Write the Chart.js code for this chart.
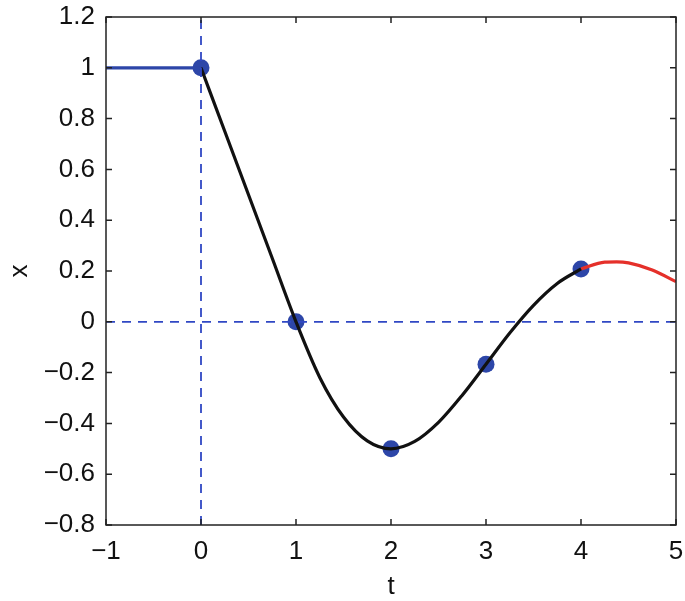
<!DOCTYPE html>
<html>
<head>
<meta charset="utf-8">
<script src="https://cdn.jsdelivr.net/npm/chart.js@4"></script>
<style>
  html, body { margin: 0; padding: 0; background: #fff; }
  #wrap { width: 685px; height: 601px; }
</style>
</head>
<body>
<div id="wrap"><canvas id="delayPlot" width="685" height="601"></canvas></div>
<script>
// history x = 1 for t <= 0
const tHist = [-1, 0];
const xHist = [1, 1];

// solution on [0, 4] (black)
const tMain = [0, 0.25, 0.5, 0.75, 1, 1.25, 1.5, 1.75, 2, 2.25, 2.5, 2.75, 3, 3.25, 3.5, 3.75, 4];
const xMain = [1, 0.75, 0.5, 0.25, 0, -0.219, -0.375, -0.469, -0.5, -0.471, -0.396, -0.289, -0.167, -0.044, 0.065, 0.151, 0.208];

// continuation on [4, 5] (red)
const tTail = [4, 4.25, 4.375, 4.5, 4.75, 5];
const xTail = [0.208, 0.235, 0.236, 0.232, 0.204, 0.158];

// marked points at integer t
const tNodes = [0, 1, 2, 3, 4];
const xNodes = [1, 0, -0.5, -0.167, 0.208];

const xTicks = [-1, 0, 1, 2, 3, 4, 5];
const yTicks = [-0.8, -0.6, -0.4, -0.2, 0, 0.2, 0.4, 0.6, 0.8, 1, 1.2];

function pts(ts, xs) {
  return ts.map((t, i) => ({ x: t, y: xs[i] }));
}

function fmt(v) {
  let s = String(Math.round(v * 10) / 10);
  return s.replace('-', '\u2212');
}

const blue = '#2d46a8';
const dashBlue = '#3048c4';
const font = { family: "'Liberation Sans', Arial, sans-serif", size: 26 };

// box + inward ticks on all four sides, matlab style
const boxTicks = {
  id: 'boxTicks',
  afterDraw(chart) {
    const ctx = chart.ctx;
    const a = chart.chartArea;
    const xs = chart.scales.x, ys = chart.scales.y;
    ctx.save();
    ctx.strokeStyle = '#222';
    ctx.lineWidth = 1.5;
    ctx.strokeRect(a.left, a.top, a.right - a.left, a.bottom - a.top);
    ctx.beginPath();
    xTicks.forEach(v => {
      const p = xs.getPixelForValue(v);
      ctx.moveTo(p, a.bottom); ctx.lineTo(p, a.bottom - 6);
      ctx.moveTo(p, a.top); ctx.lineTo(p, a.top + 6);
    });
    yTicks.forEach(v => {
      const p = ys.getPixelForValue(v);
      ctx.moveTo(a.left, p); ctx.lineTo(a.left + 6, p);
      ctx.moveTo(a.right, p); ctx.lineTo(a.right - 6, p);
    });
    ctx.stroke();
    ctx.restore();
  }
};

new Chart('delayPlot', {
  type: 'scatter',
  data: {
    datasets: [
      {
        data: [{ x: 0, y: -0.8 }, { x: 0, y: 1.2 }],
        showLine: true, borderColor: dashBlue, borderWidth: 1.8, borderDash: [9, 7],
        pointRadius: 0
      },
      {
        data: [{ x: -1, y: 0 }, { x: 5, y: 0 }],
        showLine: true, borderColor: dashBlue, borderWidth: 1.8, borderDash: [9, 7],
        pointRadius: 0
      },
      {
        data: pts(tHist, xHist),
        showLine: true, borderColor: blue, borderWidth: 3.2, pointRadius: 0
      },
      {
        data: pts(tMain, xMain),
        showLine: true, borderColor: '#111', borderWidth: 3.2, pointRadius: 0,
        cubicInterpolationMode: 'monotone'
      },
      {
        data: pts(tTail, xTail),
        showLine: true, borderColor: '#e5302a', borderWidth: 3.2, pointRadius: 0,
        cubicInterpolationMode: 'monotone'
      },
      {
        data: pts(tNodes, xNodes),
        showLine: false, pointRadius: 8.5, pointBackgroundColor: blue,
        pointBorderColor: blue, pointBorderWidth: 0
      }
    ]
  },
  options: {
    responsive: false,
    animation: false,
    layout: { padding: { left: 0, top: 17, right: 9, bottom: 0 } },
    plugins: { legend: { display: false }, tooltip: { enabled: false } },
    scales: {
      x: {
        type: 'linear', min: -1, max: 5,
        afterBuildTicks: s => { s.ticks = xTicks.map(v => ({ value: v })); },
        afterFit: s => { s.height = 76; s.paddingLeft = 0; s.paddingRight = 0; },
        grid: { display: false, drawTicks: false },
        border: { display: false },
        ticks: { color: '#111', font: font, padding: 11, callback: v => fmt(v), maxRotation: 0 },
        title: { display: true, text: 't', color: '#111', font: font, padding: { top: 4, bottom: -1 } }
      },
      y: {
        type: 'linear', min: -0.8, max: 1.2,
        afterBuildTicks: s => { s.ticks = yTicks.map(v => ({ value: v })); },
        afterFit: s => { s.width = 106; s.paddingTop = 0; s.paddingBottom = 0; },
        grid: { display: false, drawTicks: false },
        border: { display: false },
        ticks: { color: '#111', font: font, padding: 11, callback: v => fmt(v) },
        title: { display: true, text: 'x', color: '#111', font: font, padding: { bottom: 0 } }
      }
    }
  },
  plugins: [boxTicks]
});
</script>
</body>
</html>
